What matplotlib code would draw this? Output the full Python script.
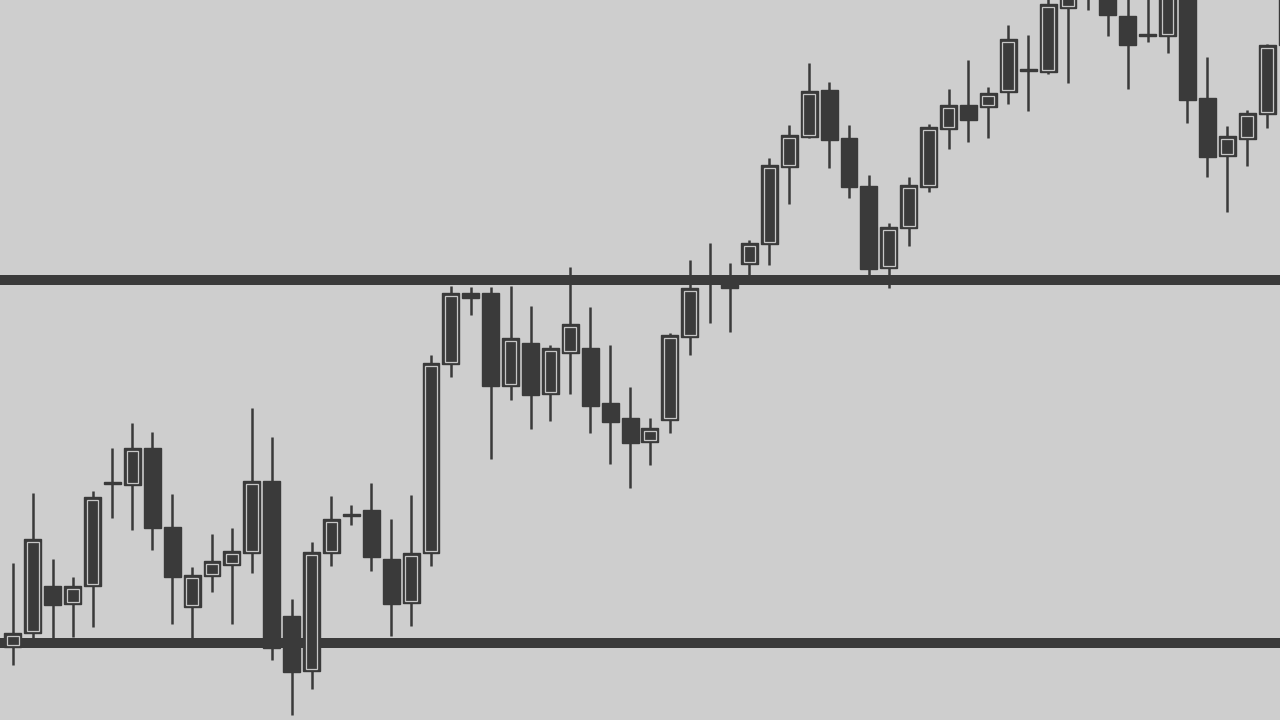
import matplotlib
matplotlib.use("Agg")
import matplotlib.pyplot as plt
from matplotlib.patches import Rectangle

# price values (chart units)
opens = [73, 87, 134, 116, 134, 236, 235, 272, 193, 113,
         144, 155, 167, 239, 104, 49, 167, 204, 210, 161,
         117, 167, 356, 422, 427, 334, 377, 326, 367, 372,
         317, 302, 278, 300, 383, 437, 432, 456, 476, 553,
         583, 630, 582, 534, 452, 492, 533, 591, 615, 613,
         628, 649, 648, 712, 740, 735, 704, 684, 684, 730,
         622, 564, 581, 606, 675]
highs = [157, 227, 161, 143, 229, 272, 297, 288, 226, 153,
         186, 192, 312, 283, 121, 178, 224, 215, 237, 201,
         225, 365, 434, 433, 433, 434, 414, 375, 453, 413,
         375, 333, 302, 387, 460, 477, 457, 480, 562, 595,
         657, 638, 595, 545, 497, 543, 596, 631, 660, 633,
         695, 685, 725, 740, 775, 745, 722, 722, 740, 740,
         663, 594, 610, 676, 740]
lows = [55, 82, 82, 83, 93, 202, 190, 170, 96, 82,
        128, 96, 147, 60, 5, 31, 154, 195, 149, 84,
        94, 154, 343, 405, 261, 320, 291, 299, 326, 287,
        256, 232, 255, 287, 365, 397, 388, 440, 455, 516,
        582, 552, 522, 445, 432, 474, 528, 571, 578, 582,
        616, 609, 646, 637, 710, 684, 631, 678, 667, 597,
        543, 508, 554, 592, 665]
closes = [87, 181, 115, 134, 223, 238, 272, 192, 143, 145,
          159, 169, 239, 72, 48, 168, 201, 206, 163, 116,
          167, 357, 427, 427, 334, 382, 325, 372, 396, 314,
          298, 277, 292, 385, 432, 440, 436, 477, 555, 585,
          629, 580, 533, 451, 493, 535, 593, 615, 600, 627,
          681, 651, 716, 725, 760, 705, 675, 686, 728, 620,
          563, 584, 607, 675, 730]
levels = [440, 77]   # resistance / support

bg = "#cecece"
dark = "#3a3a3a"
light = "#c6c6c6"
width = 0.85

fig = plt.figure(figsize=(12.8, 7.2), dpi=100)
fig.patch.set_facecolor(bg)
ax = fig.add_axes([0, 0, 1, 1])
ax.set_facecolor(bg)

for lv in levels:
    ax.axhline(lv, color=dark, lw=7.2, zorder=1)

for i, (o, h, l, c) in enumerate(zip(opens, highs, lows, closes)):
    ax.plot([i, i], [l, h], color=dark, lw=1.8, solid_capstyle="butt", zorder=2)
    bottom = min(o, c)
    height = max(abs(c - o), 2)
    ax.add_patch(Rectangle((i - width / 2, bottom), width, height,
                           facecolor=dark, edgecolor=dark, lw=1, zorder=3))
    if c > o and height > 6:
        # bullish bodies get a thin light inner outline
        ax.add_patch(Rectangle((i - width / 2 + 0.13, bottom + 2.5), width - 0.26, height - 5,
                               facecolor="none", edgecolor=light, lw=0.9, zorder=4))

n = len(opens)
ax.set_xlim(-0.65, 63.65)
ax.set_ylim(0, 720)
ax.axis("off")

fig.savefig("out.png", dpi=100, facecolor=bg)
